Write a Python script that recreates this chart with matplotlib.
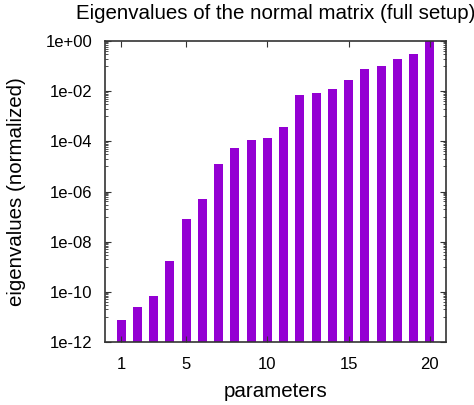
import matplotlib
matplotlib.use("Agg")
import matplotlib.pyplot as plt
from matplotlib.ticker import FixedLocator, FuncFormatter, NullFormatter
import numpy as np

params = list(range(1, 21))
eigenvalues = [6.6e-12, 2.5e-11, 6.7e-11, 1.7e-9, 7.9e-8, 5.1e-7, 1.2e-5,
               5.4e-5, 1.15e-4, 1.35e-4, 3.6e-4, 7.2e-3, 8.3e-3, 1.17e-2,
               2.8e-2, 7.4e-2, 1.0e-1, 1.86e-1, 2.9e-1, 1.0]
xticks = [1, 5, 10, 15, 20]
title = "Eigenvalues of the normal matrix (full setup)"
xlabel = "parameters"
ylabel = "eigenvalues (normalized)"

plt.rcParams['font.family'] = ['Liberation Sans', 'DejaVu Sans']

W, H = 474, 405
fig = plt.figure(figsize=(W / 100, H / 100), dpi=100)
ax = fig.add_axes([105 / W, 1 - 342 / H, (446 - 105) / W, (342 - 41) / H])

ax.bar(params, eigenvalues, width=0.55, color='#9400D3', bottom=1e-12)
ax.set_yscale('log')
ax.set_ylim(1e-12, 1e0)
ax.set_xlim(0, 21)

ax.xaxis.set_major_locator(FixedLocator(xticks))
ax.yaxis.set_major_locator(FixedLocator([10.0 ** e for e in range(-12, 1, 2)]))
minors = [k * 10.0 ** e for e in range(-13, 0, 2) for k in range(1, 10)]
minors = [m for m in minors if 1e-12 < m < 1]
ax.yaxis.set_minor_locator(FixedLocator(minors))
ax.yaxis.set_major_formatter(FuncFormatter(lambda v, p: '%.0e' % v))
ax.yaxis.set_minor_formatter(NullFormatter())

ax.tick_params(which='both', direction='in', top=True, right=True, labelsize=12,
               color='#333333')
ax.tick_params(which='major', length=4, width=0.8)
ax.tick_params(axis='x', which='major', pad=11)
ax.tick_params(axis='y', which='major', pad=9)
ax.tick_params(which='minor', length=2.5, width=0.6)
for s in ax.spines.values():
    s.set_linewidth(1.2)
    s.set_color('#333333')

ax.set_title(title, fontsize=14.8, pad=16)
ax.set_xlabel(xlabel, fontsize=14.8, labelpad=7)
ax.set_ylabel(ylabel, fontsize=14.8, labelpad=14)

fig.savefig('out.png', dpi=100)
